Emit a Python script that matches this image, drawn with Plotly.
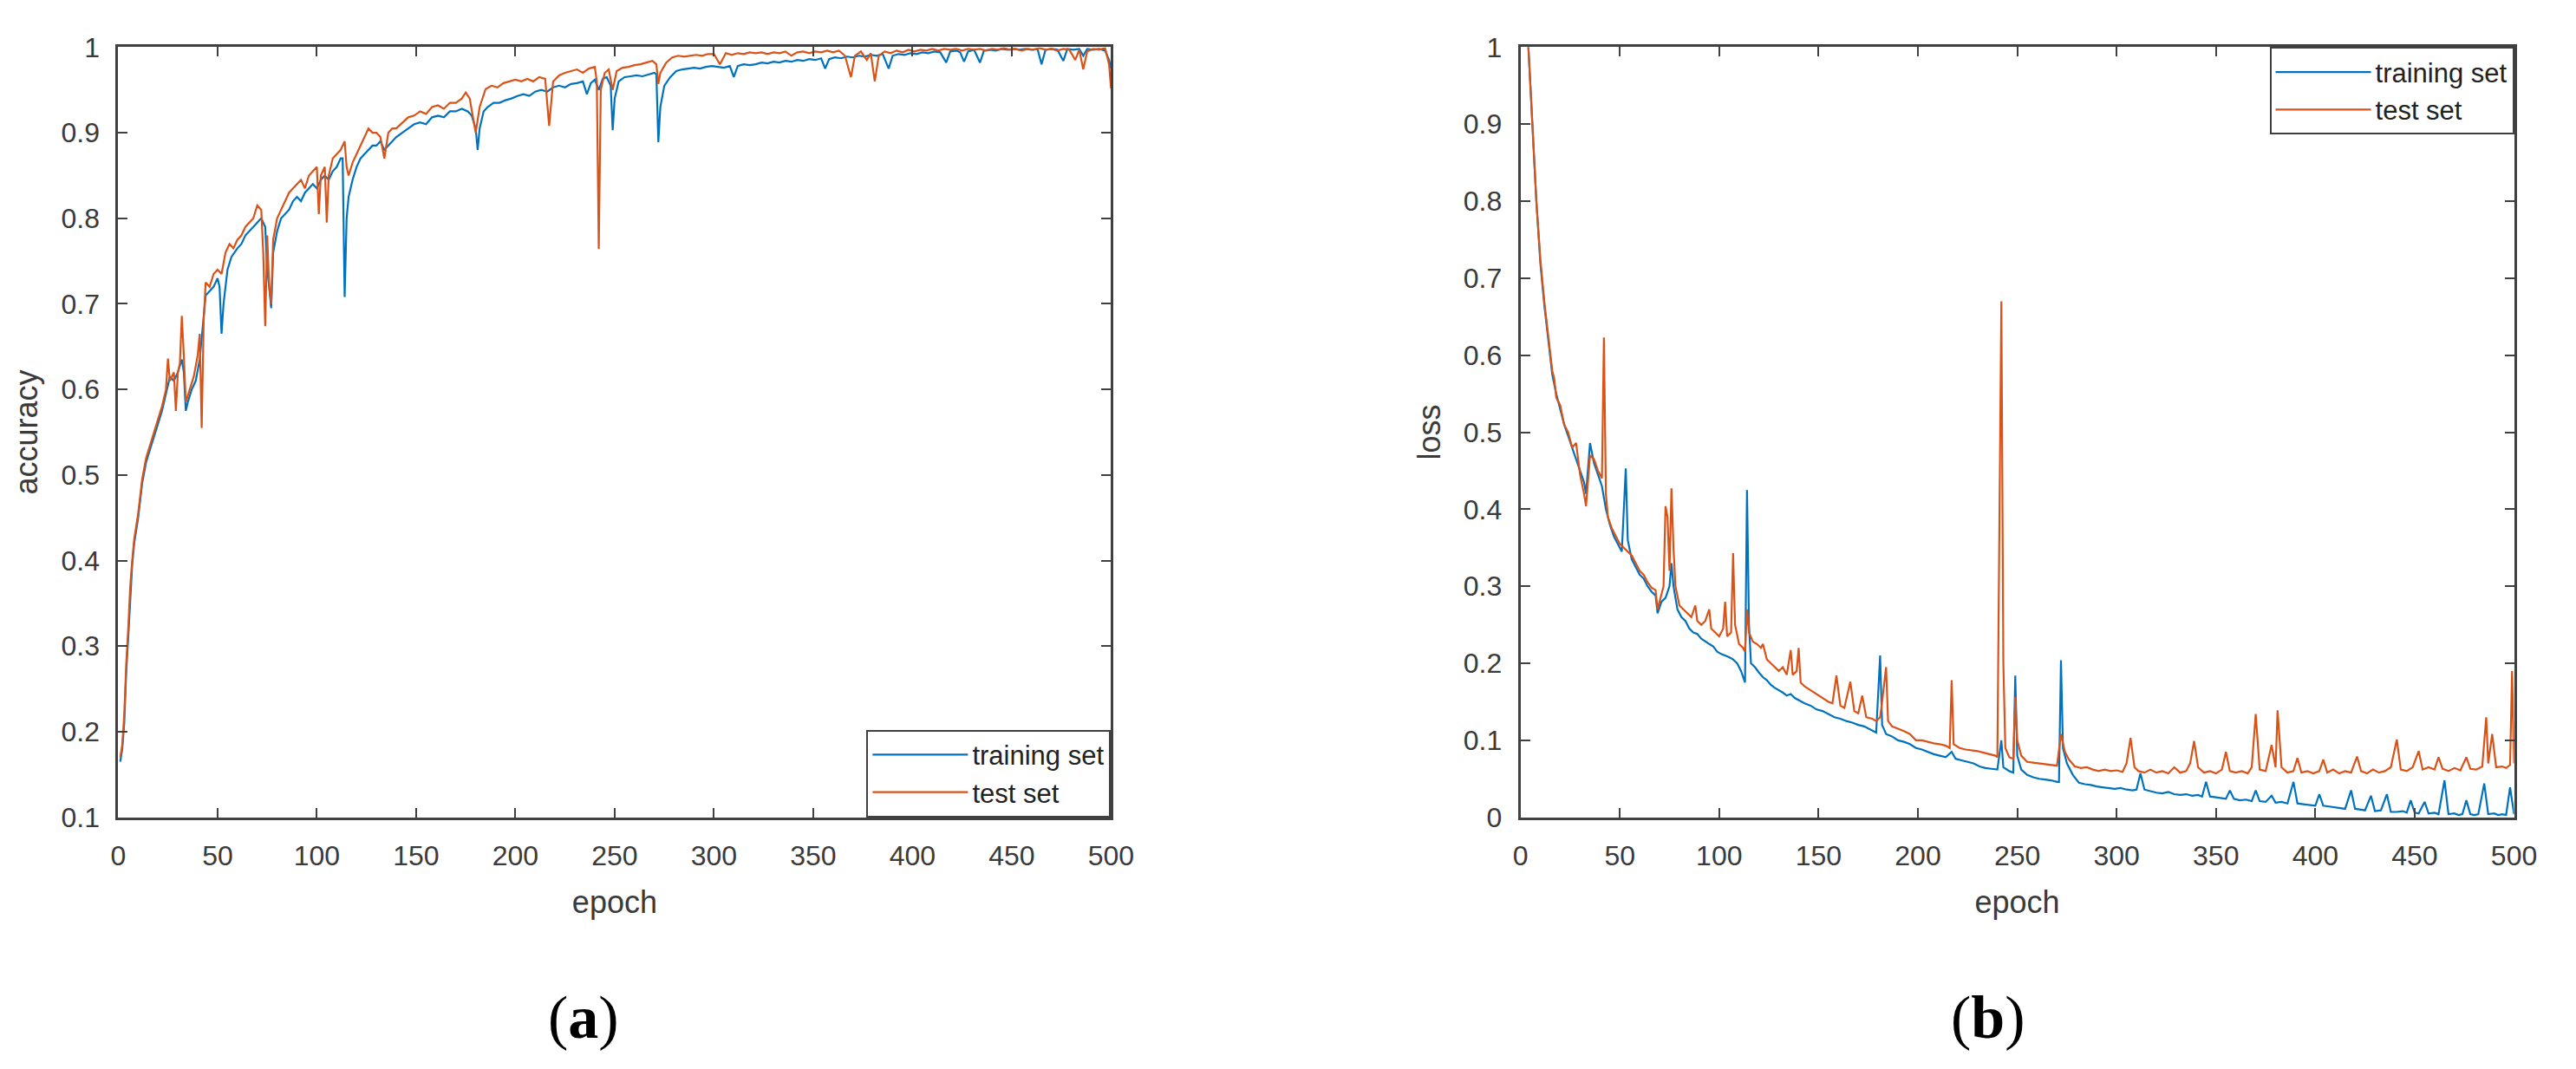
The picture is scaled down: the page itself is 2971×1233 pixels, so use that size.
import plotly.graph_objects as go

# ---------------- data (epoch, value) ----------------
acc_train = [
(1,0.165),(2,0.18),(3,0.21),(4,0.27),(5,0.31),(6,0.36),(7,0.395),(8,0.42),(10,0.45),(12,0.49),
(14,0.515),(16,0.53),(18,0.545),(20,0.56),(22,0.575),(24,0.595),(26,0.615),(28,0.61),(30,0.62),(32,0.635),
(33,0.62),(34,0.575),(35,0.585),(37,0.6),(39,0.61),(41,0.635),(43,0.69),(44,0.71),(46,0.715),(48,0.72),
(50,0.73),(51,0.72),(52,0.665),(53,0.7),(55,0.74),(57,0.755),(60,0.765),(62,0.77),(64,0.78),(66,0.785),
(68,0.79),(70,0.795),(72,0.8),(74,0.79),(75,0.74),(76,0.72),(77,0.695),(78,0.76),(80,0.785),(82,0.8),
(84,0.805),(86,0.81),(88,0.82),(90,0.825),(92,0.82),(94,0.83),(96,0.835),(98,0.84),(100,0.835),(102,0.845),
(104,0.85),(106,0.845),(108,0.855),(110,0.86),(112,0.87),(113,0.87),(114,0.708),(115,0.8),(116,0.825),(118,0.845),
(120,0.86),(122,0.87),(124,0.875),(126,0.88),(128,0.885),(130,0.885),(132,0.89),(134,0.88),(136,0.885),(138,0.89),
(140,0.895),(143,0.9),(146,0.905),(149,0.91),(152,0.912),(155,0.91),(158,0.918),(161,0.92),(164,0.918),(167,0.925),
(170,0.925),(173,0.928),(176,0.925),(178,0.92),(180,0.905),(181,0.88),(182,0.905),(184,0.925),(186,0.93),(189,0.935),
(192,0.935),(195,0.938),(198,0.94),(201,0.943),(204,0.945),(207,0.943),(210,0.948),(213,0.95),(216,0.948),(219,0.953),
(222,0.955),(225,0.953),(228,0.957),(231,0.958),(234,0.96),(236,0.945),(238,0.958),(240,0.962),(242,0.95),(244,0.963),
(246,0.965),(248,0.955),(249,0.903),(250,0.94),(252,0.96),(255,0.965),(258,0.966),(261,0.967),(264,0.966),(267,0.968),
(270,0.97),(271,0.968),(272,0.889),(273,0.93),(275,0.955),(278,0.965),(281,0.972),(284,0.974),(287,0.975),(290,0.976),
(293,0.975),(296,0.977),(299,0.978),(302,0.977),(305,0.976),(308,0.978),(310,0.965),(312,0.978),(315,0.98),(318,0.979),
(321,0.98),(324,0.982),(327,0.981),(330,0.983),(333,0.982),(336,0.984),(339,0.983),(342,0.985),(345,0.984),(348,0.986),
(351,0.985),(354,0.987),(356,0.975),(358,0.986),(361,0.988),(364,0.987),(367,0.989),(370,0.988),(373,0.99),(376,0.989),
(379,0.991),(382,0.99),(385,0.992),(388,0.975),(390,0.99),(393,0.992),(396,0.991),(399,0.993),(402,0.992),(405,0.994),
(408,0.993),(411,0.995),(414,0.994),(417,0.982),(419,0.995),(422,0.996),(424,0.994),(426,0.983),(428,0.995),(431,0.997),
(434,0.982),(436,0.996),(439,0.997),(442,0.996),(445,0.998),(448,0.997),(451,0.998),(454,0.997),(457,0.998),(460,0.997),
(463,0.998),(465,0.98),(467,0.997),(470,0.998),(473,0.997),(476,0.984),(478,0.998),(481,0.997),(484,0.998),(486,0.99),
(488,0.998),(491,0.997),(494,0.998),(497,0.996),(499,0.985),(500,0.975)
]

acc_test = [
(1,0.17),(2,0.185),(3,0.22),(4,0.28),(5,0.32),(6,0.37),(7,0.4),(8,0.425),(10,0.455),(12,0.495),
(14,0.52),(16,0.535),(18,0.55),(20,0.565),(22,0.58),(24,0.6),(25,0.636),(26,0.61),(28,0.62),(29,0.575),
(30,0.62),(31,0.63),(32,0.686),(33,0.64),(34,0.585),(36,0.6),(38,0.615),(40,0.64),(41,0.665),(42,0.555),
(43,0.68),(44,0.725),(46,0.72),(48,0.735),(50,0.74),(52,0.735),(54,0.76),(56,0.77),(58,0.765),(60,0.775),
(62,0.78),(64,0.79),(66,0.795),(68,0.8),(70,0.815),(72,0.81),(73,0.76),(74,0.674),(75,0.78),(76,0.72),
(77,0.7),(78,0.775),(80,0.8),(82,0.81),(84,0.82),(86,0.83),(88,0.835),(90,0.84),(92,0.845),(94,0.835),
(96,0.85),(98,0.855),(100,0.86),(101,0.805),(102,0.85),(104,0.86),(105,0.795),(106,0.85),(108,0.87),(110,0.875),
(112,0.88),(114,0.89),(115,0.86),(116,0.85),(118,0.865),(120,0.875),(122,0.885),(124,0.895),(126,0.905),(128,0.9),
(130,0.9),(132,0.895),(134,0.87),(136,0.9),(138,0.905),(140,0.905),(143,0.912),(146,0.918),(149,0.92),(152,0.925),
(155,0.922),(158,0.93),(161,0.932),(164,0.928),(167,0.935),(170,0.935),(173,0.94),(175,0.947),(177,0.94),(180,0.9),
(182,0.93),(185,0.951),(188,0.955),(191,0.953),(194,0.958),(197,0.96),(200,0.962),(203,0.96),(206,0.963),(209,0.96),
(212,0.965),(215,0.963),(217,0.908),(219,0.96),(222,0.967),(225,0.97),(228,0.972),(231,0.974),(234,0.97),(237,0.975),
(240,0.977),(241,0.96),(242,0.764),(243,0.95),(245,0.97),(247,0.974),(249,0.95),(251,0.972),(254,0.976),(257,0.977),
(260,0.979),(263,0.98),(266,0.982),(269,0.984),(271,0.98),(272,0.957),(273,0.97),(276,0.982),(279,0.988),(282,0.99),
(285,0.989),(288,0.99),(291,0.991),(294,0.99),(297,0.992),(300,0.992),(303,0.98),(306,0.993),(309,0.991),(312,0.993),
(315,0.992),(318,0.994),(321,0.993),(324,0.994),(327,0.992),(330,0.994),(333,0.993),(336,0.995),(339,0.99),(342,0.994),
(345,0.995),(348,0.993),(351,0.995),(354,0.994),(357,0.996),(360,0.994),(363,0.996),(366,0.99),(369,0.965),(371,0.99),
(374,0.995),(377,0.985),(379,0.993),(381,0.96),(383,0.99),(386,0.995),(389,0.993),(392,0.996),(395,0.994),(398,0.997),
(401,0.995),(404,0.997),(407,0.996),(410,0.998),(413,0.996),(416,0.998),(419,0.997),(422,0.998),(425,0.996),(428,0.998),
(431,0.997),(434,0.998),(437,0.996),(440,0.998),(443,0.997),(446,0.999),(449,0.997),(452,0.998),(455,0.996),(458,0.998),
(461,0.997),(464,0.999),(467,0.997),(470,0.998),(473,0.996),(476,0.998),(479,0.997),(482,0.985),(484,0.997),(486,0.974),
(488,0.995),(491,0.998),(494,0.997),(497,0.999),(499,0.98),(500,0.952)
]

loss_train = [
(1,1.15),(2,1.1),(4,1.0),(6,0.9),(8,0.8),(10,0.72),(12,0.665),(14,0.62),(16,0.575),(18,0.55),
(20,0.53),(22,0.51),(24,0.495),(26,0.48),(28,0.465),(30,0.45),(32,0.435),(33,0.42),(35,0.486),(37,0.46),
(39,0.445),(41,0.43),(43,0.4),(45,0.38),(47,0.365),(49,0.355),(51,0.345),(53,0.453),(54,0.36),(56,0.335),
(58,0.325),(60,0.315),(62,0.31),(64,0.3),(66,0.293),(68,0.288),(69,0.265),(71,0.28),(73,0.285),(75,0.3),
(76,0.33),(77,0.3),(79,0.27),(81,0.26),(83,0.255),(85,0.245),(87,0.24),(89,0.238),(91,0.232),(93,0.228),
(95,0.225),(97,0.222),(99,0.215),(101,0.212),(103,0.21),(105,0.208),(107,0.205),(109,0.2),(111,0.19),(113,0.175),
(114,0.425),(115,0.25),(116,0.2),(118,0.195),(120,0.188),(122,0.182),(124,0.178),(126,0.172),(128,0.168),(130,0.165),
(132,0.162),(134,0.158),(136,0.16),(138,0.155),(140,0.152),(143,0.148),(146,0.145),(149,0.14),(152,0.138),(155,0.134),
(158,0.13),(161,0.128),(164,0.125),(167,0.123),(170,0.12),(173,0.118),(176,0.114),(179,0.11),(181,0.21),(182,0.12),
(184,0.108),(187,0.105),(190,0.1),(193,0.098),(196,0.095),(199,0.09),(202,0.088),(205,0.085),(208,0.082),(211,0.08),
(214,0.078),(217,0.085),(219,0.076),(222,0.074),(225,0.072),(228,0.07),(231,0.066),(234,0.064),(237,0.063),(240,0.062),
(242,0.1),(243,0.065),(246,0.06),(248,0.058),(249,0.184),(250,0.08),(252,0.062),(255,0.055),(258,0.052),(261,0.05),
(264,0.049),(267,0.048),(270,0.046),(271,0.046),(272,0.204),(273,0.09),(275,0.07),(278,0.055),(281,0.045),(284,0.043),
(287,0.042),(290,0.04),(293,0.039),(296,0.038),(299,0.037),(302,0.038),(305,0.036),(308,0.035),(310,0.036),(312,0.057),
(314,0.036),(317,0.034),(320,0.032),(323,0.031),(326,0.033),(329,0.03),(332,0.029),(335,0.03),(338,0.028),(341,0.029),
(343,0.027),(345,0.046),(347,0.027),(350,0.026),(353,0.025),(355,0.024),(357,0.035),(359,0.024),(362,0.022),(365,0.023),
(368,0.021),(370,0.035),(372,0.021),(375,0.02),(378,0.028),(380,0.019),(383,0.02),(386,0.018),(389,0.046),(391,0.018),
(394,0.017),(397,0.016),(400,0.015),(402,0.03),(404,0.015),(407,0.014),(410,0.013),(413,0.012),(415,0.011),(418,0.035),
(420,0.011),(423,0.01),(425,0.009),(428,0.028),(430,0.008),(433,0.009),(436,0.03),(438,0.007),(441,0.007),(444,0.008),
(446,0.006),(448,0.022),(450,0.006),(452,0.005),(455,0.02),(457,0.005),(460,0.006),(462,0.004),(465,0.048),(467,0.004),
(470,0.005),(472,0.003),(474,0.004),(476,0.022),(478,0.004),(480,0.003),(482,0.004),(485,0.044),(487,0.004),(490,0.005),
(492,0.003),(494,0.004),(496,0.003),(498,0.039),(500,0.004)
]

loss_test = [
(1,1.15),(2,1.1),(4,1.0),(6,0.9),(8,0.8),(10,0.725),(12,0.67),(14,0.625),(16,0.58),(17,0.57),
(18,0.545),(20,0.535),(22,0.51),(24,0.5),(26,0.48),(28,0.486),(30,0.445),(32,0.42),(33,0.404),(35,0.47),
(37,0.465),(39,0.45),(41,0.44),(42,0.623),(43,0.42),(44,0.39),(46,0.375),(48,0.365),(50,0.355),(52,0.35),
(54,0.345),(56,0.34),(58,0.33),(60,0.32),(62,0.315),(64,0.305),(66,0.298),(68,0.295),(69,0.27),(71,0.29),
(72,0.3),(73,0.404),(74,0.39),(75,0.32),(76,0.427),(77,0.35),(78,0.3),(80,0.275),(82,0.27),(84,0.265),
(86,0.26),(88,0.275),(89,0.255),(91,0.25),(93,0.255),(95,0.27),(96,0.245),(98,0.24),(100,0.235),(102,0.245),
(103,0.28),(104,0.235),(106,0.24),(107,0.343),(108,0.25),(110,0.225),(112,0.22),(113,0.215),(114,0.27),(115,0.24),
(117,0.228),(119,0.225),(121,0.22),(122,0.225),(124,0.205),(126,0.2),(128,0.195),(130,0.19),(132,0.195),(134,0.185),
(136,0.217),(137,0.185),(139,0.19),(140,0.22),(141,0.175),(143,0.17),(146,0.165),(149,0.16),(152,0.155),(155,0.15),
(157,0.148),(159,0.184),(161,0.145),(163,0.142),(166,0.176),(168,0.138),(170,0.135),(172,0.158),(174,0.13),(177,0.128),
(179,0.125),(181,0.13),(182,0.15),(184,0.195),(185,0.125),(187,0.118),(190,0.115),(193,0.112),(196,0.108),(199,0.1),
(202,0.1),(205,0.098),(208,0.096),(211,0.095),(214,0.093),(216,0.09),(217,0.178),(218,0.095),(221,0.09),(224,0.088),
(227,0.087),(230,0.086),(233,0.084),(236,0.082),(239,0.08),(240,0.078),(241,0.35),(242,0.67),(243,0.2),(244,0.09),
(246,0.078),(248,0.076),(249,0.156),(250,0.1),(252,0.08),(255,0.072),(258,0.071),(261,0.07),(264,0.069),(267,0.068),
(270,0.067),(272,0.108),(274,0.085),(276,0.075),(279,0.066),(282,0.064),(285,0.065),(288,0.062),(291,0.06),(294,0.062),
(297,0.06),(300,0.061),(303,0.059),(305,0.07),(307,0.103),(309,0.065),(311,0.06),(314,0.058),(317,0.062),(320,0.058),
(323,0.06),(326,0.057),(329,0.065),(332,0.058),(335,0.06),(337,0.07),(339,0.099),(341,0.065),(344,0.058),(347,0.06),
(350,0.057),(353,0.062),(355,0.085),(357,0.06),(360,0.058),(363,0.06),(366,0.057),(368,0.065),(370,0.134),(372,0.062),
(375,0.06),(378,0.094),(380,0.065),(381,0.139),(383,0.065),(386,0.058),(389,0.06),(391,0.077),(393,0.058),(396,0.06),
(399,0.057),(402,0.06),(404,0.075),(406,0.058),(409,0.062),(412,0.057),(415,0.06),(418,0.058),(421,0.079),(423,0.06),
(426,0.057),(429,0.062),(432,0.058),(435,0.06),(438,0.065),(441,0.101),(443,0.062),(446,0.06),(449,0.065),(452,0.086),
(454,0.062),(457,0.065),(460,0.062),(462,0.078),(464,0.063),(467,0.06),(470,0.064),(473,0.061),(476,0.078),(478,0.063),
(481,0.062),(484,0.066),(486,0.13),(487,0.07),(489,0.108),(491,0.065),(494,0.066),(496,0.064),(498,0.068),(499,0.19),
(500,0.07)
]

series_names = ["training set", "test set"]
x_ticks = [0, 50, 100, 150, 200, 250, 300, 350, 400, 450, 500]
acc_ticks = [0.1, 0.2, 0.3, 0.4, 0.5, 0.6, 0.7, 0.8, 0.9, 1]
loss_ticks = [0, 0.1, 0.2, 0.3, 0.4, 0.5, 0.6, 0.7, 0.8, 0.9, 1]
panel_labels = ["(<b>a</b>)", "(<b>b</b>)"]
x_title = "epoch"
y_titles = ["accuracy", "loss"]

# ---------------- styling ----------------
W, H = 2971, 1233
BLUE = "#0072BD"
ORANGE = "#D95319"
AX = "#404040"
FONT = "Liberation Sans, Arial, Helvetica, sans-serif"
TICKFONT = dict(family=FONT, size=32, color="#3a3a3a")


def px_x(p):
    return p / W


def px_y(p):
    return 1 - p / H


fig = go.Figure()

panels = [
    (acc_train, acc_test, "x", "y", "legend"),
    (loss_train, loss_test, "x2", "y2", "legend2"),
]
for tr, te, xa, ya, lg in panels:
    for data, name, col in ((tr, series_names[0], BLUE), (te, series_names[1], ORANGE)):
        fig.add_trace(go.Scatter(
            x=[p[0] for p in data], y=[p[1] for p in data],
            mode="lines", name=name, line=dict(color=col, width=2.2),
            xaxis=xa, yaxis=ya, legend=lg, cliponaxis=True,
        ))

axis_common = dict(
    showline=True, linecolor=AX, linewidth=3, mirror="ticks",
    ticks="inside", ticklen=11, tickwidth=2, tickcolor=AX,
    showgrid=False, zeroline=False, tickfont=TICKFONT,
)

ydom = [px_y(952.5), px_y(37.5)]
TITLEFONT = dict(family=FONT, size=36, color="#3a3a3a")
fig.update_layout(
    width=W, height=H,
    margin=dict(l=0, r=0, t=0, b=0),
    paper_bgcolor="white", plot_bgcolor="white",
    font=dict(family=FONT, color="#333333"),
    xaxis=dict(domain=[px_x(129), px_x(1288)], range=[0, 500], tickvals=x_ticks,
               title=dict(text=x_title, font=TITLEFONT, standoff=24),
               ticklabelstandoff=14, anchor="y", **axis_common),
    yaxis=dict(domain=ydom, range=[0.1, 1], tickvals=acc_ticks,
               title=dict(text=y_titles[0], font=TITLEFONT, standoff=16),
               ticklabelstandoff=12, anchor="x", **axis_common),
    xaxis2=dict(domain=[px_x(1766), px_x(2926)], range=[0, 500], tickvals=x_ticks,
                title=dict(text=x_title, font=TITLEFONT, standoff=24),
                ticklabelstandoff=14, anchor="y2", **axis_common),
    yaxis2=dict(domain=ydom, range=[0, 1], tickvals=loss_ticks,
                title=dict(text=y_titles[1], font=TITLEFONT, standoff=16),
                ticklabelstandoff=12, anchor="x2", **axis_common),
    legend=dict(x=px_x(1288), xanchor="right", y=px_y(952.5), yanchor="bottom",
                bgcolor="white", bordercolor=AX, borderwidth=2,
                font=dict(family=FONT, size=31, color="#222222"), itemwidth=110,
                tracegroupgap=0),
    legend2=dict(x=px_x(2926), xanchor="right", y=px_y(37.5), yanchor="top",
                 bgcolor="white", bordercolor=AX, borderwidth=2,
                 font=dict(family=FONT, size=31, color="#222222"), itemwidth=110,
                 tracegroupgap=0),
    showlegend=True,
)

SERIF = dict(family="Liberation Serif, Times New Roman, serif", size=70, color="black")
fig.add_annotation(text=panel_labels[0], x=px_x(672), y=px_y(1190), xref="paper", yref="paper",
                   showarrow=False, xanchor="center", yanchor="middle", font=SERIF)
fig.add_annotation(text=panel_labels[1], x=px_x(2312), y=px_y(1190), xref="paper", yref="paper",
                   showarrow=False, xanchor="center", yanchor="middle", font=SERIF)

fig.write_html("out.html", config={"displayModeBar": False},
               post_script="document.body.style.margin='0';document.body.style.overflow='hidden';")
